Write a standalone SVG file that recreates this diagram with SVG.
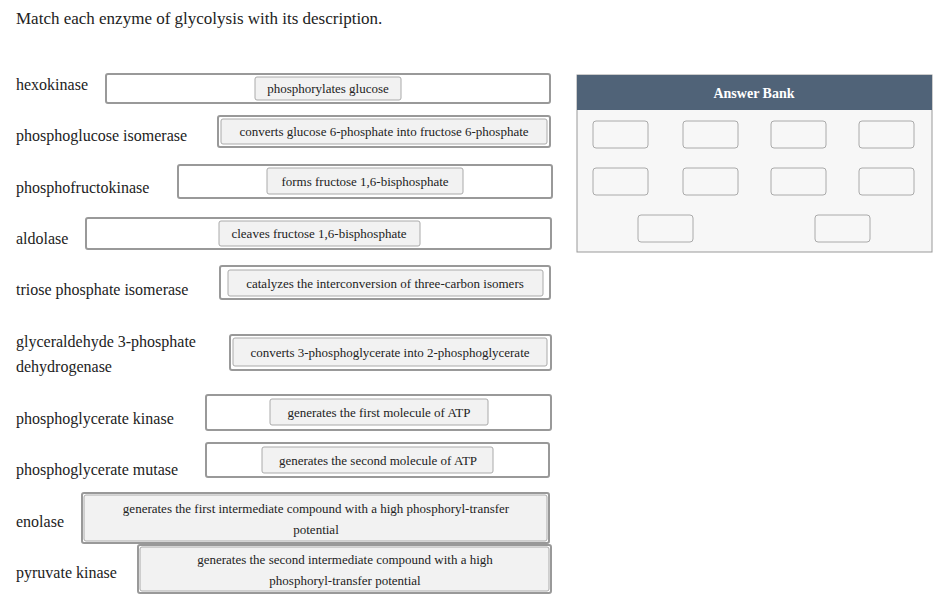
<svg xmlns="http://www.w3.org/2000/svg" width="950" height="610" viewBox="0 0 950 610">
<style>
text{font-family:"Liberation Serif","Times New Roman",serif;fill:#222}
.lbl{font-size:16px}
.chip{font-size:13px;text-anchor:middle}
.outer{fill:#fff;stroke:#999;stroke-width:2}
.inner{fill:#f2f2f2;stroke:#aaa;stroke-width:1}
.slot{fill:#f7f7f7;stroke:#aaa;stroke-width:1}
</style>
<rect width="950" height="610" fill="#fff"/>
<text x="16" y="24" class="lbl" style="font-size:17px">Match each enzyme of glycolysis with its description.</text>
<g id="r1"><text x="16" y="90" class="lbl">hexokinase</text><rect class="outer" x="106" y="74" width="444" height="29" rx="2"/><rect class="inner" x="255" y="77" width="146" height="23" rx="2"/><text x="328" y="93" class="chip">phosphorylates glucose</text></g>
<g id="r2"><text x="16" y="141" class="lbl">phosphoglucose isomerase</text><rect class="outer" x="218" y="116" width="332" height="31" rx="2"/><rect class="inner" x="221" y="119" width="326" height="25" rx="2"/><text x="384" y="136" class="chip">converts glucose 6-phosphate into fructose 6-phosphate</text></g>
<g id="r3"><text x="16" y="193" class="lbl">phosphofructokinase</text><rect class="outer" x="178" y="165" width="374" height="33" rx="2"/><rect class="inner" x="267" y="168" width="196" height="26" rx="2"/><text x="365" y="186" class="chip">forms fructose 1,6-bisphosphate</text></g>
<g id="r4"><text x="16" y="244" class="lbl">aldolase</text><rect class="outer" x="86" y="218" width="465" height="31" rx="2"/><rect class="inner" x="219" y="221" width="201" height="25" rx="2"/><text x="319" y="238" class="chip">cleaves fructose 1,6-bisphosphate</text></g>
<g id="r5"><text x="16" y="295" class="lbl">triose phosphate isomerase</text><rect class="outer" x="220" y="266" width="330" height="33" rx="2"/><rect class="inner" x="228" y="270" width="315" height="26" rx="2"/><text x="385" y="288" class="chip">catalyzes the interconversion of three-carbon isomers</text></g>
<g id="r6"><text x="16" y="347" class="lbl">glyceraldehyde 3-phosphate</text><text x="16" y="372" class="lbl">dehydrogenase</text><rect class="outer" x="230" y="335" width="321" height="35" rx="2"/><rect class="inner" x="233" y="338" width="314" height="28" rx="2"/><text x="390" y="357" class="chip">converts 3-phosphoglycerate into 2-phosphoglycerate</text></g>
<g id="r7"><text x="16" y="424" class="lbl">phosphoglycerate kinase</text><rect class="outer" x="206" y="395" width="345" height="35" rx="2"/><rect class="inner" x="270" y="399" width="218" height="26" rx="2"/><text x="379" y="417" class="chip">generates the first molecule of ATP</text></g>
<g id="r8"><text x="16" y="475" class="lbl">phosphoglycerate mutase</text><rect class="outer" x="206" y="443" width="343" height="34" rx="2"/><rect class="inner" x="262" y="447" width="231" height="26" rx="2"/><text x="378" y="465" class="chip">generates the second molecule of ATP</text></g>
<g id="r9"><text x="16" y="527" class="lbl">enolase</text><rect class="outer" x="82" y="493" width="467" height="50" rx="2"/><rect class="inner" x="84" y="495" width="463" height="46" rx="2"/><text x="316" y="513" class="chip">generates the first intermediate compound with a high phosphoryl-transfer</text><text x="316" y="534" class="chip">potential</text></g>
<g id="r10"><text x="16" y="578" class="lbl">pyruvate kinase</text><rect class="outer" x="138" y="545" width="413" height="48" rx="2"/><rect class="inner" x="140" y="547" width="409" height="44" rx="2"/><text x="345" y="564" class="chip">generates the second intermediate compound with a high</text><text x="345" y="585" class="chip">phosphoryl-transfer potential</text></g>
<g id="bank">
<rect x="577" y="75" width="355" height="177" fill="#f7f7f7" stroke="#999" stroke-width="1"/>
<rect x="577" y="75" width="355" height="35" fill="#506378"/>
<text x="754" y="98" text-anchor="middle" style="font-size:14px;font-weight:bold;fill:#fff">Answer Bank</text>
<rect class="slot" x="593" y="121" width="55" height="27" rx="3"/><rect class="slot" x="683" y="121" width="55" height="27" rx="3"/><rect class="slot" x="771" y="121" width="55" height="27" rx="3"/><rect class="slot" x="859" y="121" width="55" height="27" rx="3"/>
<rect class="slot" x="593" y="168" width="55" height="27" rx="3"/><rect class="slot" x="683" y="168" width="55" height="27" rx="3"/><rect class="slot" x="771" y="168" width="55" height="27" rx="3"/><rect class="slot" x="859" y="168" width="55" height="27" rx="3"/>
<rect class="slot" x="638" y="215" width="55" height="27" rx="3"/><rect class="slot" x="815" y="215" width="55" height="27" rx="3"/>
</g>
<g id="connectors"/>
</svg>
